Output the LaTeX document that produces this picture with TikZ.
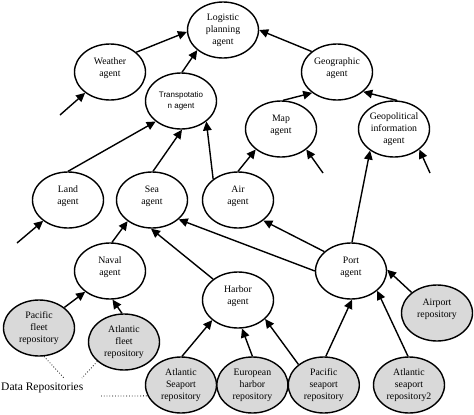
\documentclass[tikz,border=0pt]{standalone}
\usepackage{fontspec}
\setmainfont{Liberation Serif}
\newfontfamily\arialfont{Liberation Sans}
\usetikzlibrary{shapes.geometric,arrows.meta,positioning}

\begin{document}
\begin{tikzpicture}[x=1pt,y=-1pt,
  agent/.style={ellipse, draw, line width=1.4pt, minimum width=71pt, minimum height=56pt,
    inner sep=-6pt, align=center, font=\fontsize{9.8}{12}\selectfont},
  lift/.style={text depth=10pt},
  repo/.style={agent, fill=black!15},
  link/.style={-{Triangle[length=9pt,width=8.5pt]}, line width=1.4pt},
  dots/.style={dotted, line width=0.8pt}]
\useasboundingbox (0,0) rectangle (474,415);

\node (LP) [agent] at (223,30) {Logistic\\planning\\agent};
\node (W)  [agent, lift] at (110,72) {Weather\\agent};
\node (T)  [agent, font=\arialfont\fontsize{8}{11}\selectfont] at (181,101) {Transpotatio\\n agent};
\node (G)  [agent, lift] at (337,72) {Geographic\\agent};
\node (M)  [agent, lift] at (281,129) {Map\\agent};
\node (GI) [agent] at (394,129) {Geopolitical\\information\\agent};
\node (L)  [agent, lift] at (68,200) {Land\\agent};
\node (S)  [agent, lift] at (152,200) {Sea\\agent};
\node (A)  [agent, lift] at (238,200) {Air\\agent};
\node (N)  [agent, lift] at (110,271) {Naval\\agent};
\node (P)  [agent, lift] at (351,271) {Port\\agent};
\node (H)  [agent, lift] at (238,300) {Harbor\\agent};

\node (AR) [repo, lift] at (437,313) {Airport\\repository};
\node (PF) [repo] at (39,328) {Pacific\\fleet\\repository};
\node (AF) [repo] at (124,342) {Atlantic\\fleet\\repository};
\node (AS) [repo] at (181,385) {Atlantic\\Seaport\\repository};
\node (EH) [repo, right=-1pt of AS] {European\\harbor\\repository};
\node (PS) [repo, right=-1pt of EH] {Pacific\\seaport\\repository};
\node (AS2) [repo] at (409,385) {Atlantic\\seaport\\repository2};

\node (DR) [anchor=west, inner sep=1pt, font=\fontsize{11.5}{13}\selectfont] at (0,388) {Data Repositories};

% loose arrow tails
\coordinate (inW)  at (60,115);
\coordinate (inM)  at (323,173);
\coordinate (inGI) at (430,173);
\coordinate (inL)  at (17,243);
\coordinate (D1) at (64,378);
\coordinate (D2) at (82,378);
\coordinate (D3) at (101,396);

\draw[link] (W.37) -- (LP.183);
\draw[link] (T.88) -- (LP.218);
\draw[link] (G.141) -- (LP.0);
\draw[link] (inW) -- (W.220);
\draw[link] (M.86) -- (G.220);
\draw[link] (GI.84) -- (G.323);
\draw[link] (L.90) -- (T.219);
\draw[link] (S.88) -- (T.272);
\draw[link] (A.140) -- (T.321);
\draw[link] (A.90) -- (M.219);
\draw[link] (inM) -- (M.321);
\draw[link] (inGI) -- (GI.321);
\draw[link] (P.88) -- (GI.222);
\draw[link] (inL) -- (L.220);
\draw[link] (N.86) -- (S.221);
\draw[link] (H.140) -- (S.268);
\draw[link] (P.180) -- (S.324);
\draw[link] (P.144) -- (A.321);
\draw[link] (PF.39) -- (N.220);
\draw[link] (AF.94) -- (N.275);
\draw[link] (AS.88) -- (H.218);
\draw[link] (EH.90) -- (H.278);
\draw[link] (PS.141) -- (H.325);
\draw[link] (PS.86) -- (P.272);
\draw[link] (AS2.92) -- (P.323);
\draw[link] (AR.141) -- (P.2);

% dotted pointers
\draw[dots] (PF.280) -- (D1);
\draw[dots] (AF.216) -- (D2);
\draw[dots] (D3) -- (AS.198);
\end{tikzpicture}
\end{document}
